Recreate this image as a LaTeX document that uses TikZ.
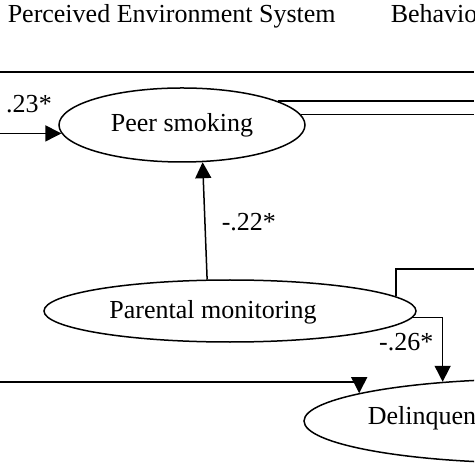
\documentclass[tikz,border=0pt]{standalone}
\usepackage{fontspec}
\setmainfont{Liberation Serif}
\usetikzlibrary{arrows.meta,shapes.geometric}
\begin{document}
\begin{tikzpicture}[x=0.5pt,y=-0.5pt, line width=0.75pt,
  every node/.style={font=\fontsize{13}{15}\selectfont},
  oval/.style={draw, ellipse, inner sep=0pt},
  arr/.style={-{Triangle[length=8pt,width=8pt]}},
  lbl/.style={inner sep=0pt}]
\useasboundingbox (0,0) rectangle (474,474);
\clip (0,0) rectangle (474,474);
\node[lbl, anchor=base west] (t1) at (7,23) {Perceived Environment System};
\node[lbl, anchor=base west] (t2) at (390,23) {Behavioral System};
\coordinate (tl) at (0,72);
\coordinate (tr) at (474,72);
\draw (tl) -- (tr);
\node[oval, minimum width=123pt, minimum height=37pt] (peer) at (182,125) {Peer smoking};
\node[oval, minimum width=186pt, minimum height=31pt] (pm) at (230,311) {};
\node[lbl] (pmt) at (213,312) {Parental monitoring};
\node[oval, minimum width=231pt, minimum height=42pt] (del) at (535,421) {};
\node[lbl, anchor=west] (delt) at (367,418) {Delinquency};
\coordinate (E) at (474,0);
\coordinate (W) at (0,0);
\draw (peer.14.4) -- (peer.14.4 -| E);
\draw (peer.5.3) -- (peer.5.3 -| E);
\draw[arr] (peer.184.8 -| W) -- (peer.184.8);
\node[lbl] (w1) at (29,104) {.23*};
\draw[arr] (pm.126.7) -- (peer.299.9);
\node[lbl, anchor=west] (w2) at (221,222) {-.22*};
\coordinate (R2) at (474,269);
\draw (pm.5.4) |- (R2);
\draw[arr] (pm.-2.2) -| (del.157);
\node[lbl, anchor=east] (w3) at (434,342) {-.26*};
\coordinate (L3) at (0,382);
\draw[arr] (L3) -| (del.171.7);
\end{tikzpicture}
\end{document}
